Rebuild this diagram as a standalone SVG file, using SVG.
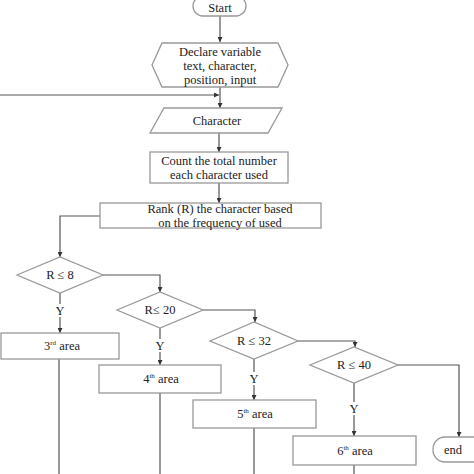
<svg xmlns="http://www.w3.org/2000/svg" width="474" height="474" viewBox="0 0 474 474">
<defs>
<marker id="ah" viewBox="0 0 8 8" refX="8" refY="4" markerWidth="5" markerHeight="5" markerUnits="userSpaceOnUse" orient="auto">
<path d="M0,0 L8,4 L0,8 z" fill="#333"/>
</marker>
</defs>
<style>
.shape{fill:#fff;stroke:#999;stroke-width:1.3}
.t{font-family:"Liberation Serif","Times New Roman",serif;font-size:12.5px;fill:#222;text-anchor:middle}
.c{fill:none;stroke:#555;stroke-width:1.2}
.y{font-family:"Liberation Serif","Times New Roman",serif;font-size:12.5px;fill:#222;text-anchor:middle}
.sup{font-size:7px}
</style>
<rect width="474" height="474" fill="#fff"/>
<g id="connectors">
<path class="c" d="M220,16 V42" marker-end="url(#ah)"/>
<path class="c" d="M220,87 V108" marker-end="url(#ah)"/>
<path class="c" d="M0,95 H219" marker-end="url(#ah)"/>
<path class="c" d="M219,133 V152" marker-end="url(#ah)"/>
<path class="c" d="M219,183 V203" marker-end="url(#ah)"/>
<path class="c" d="M100,216 H60 V257" marker-end="url(#ah)"/>
<path class="c" d="M103,275 H160 V292" marker-end="url(#ah)"/>
<path class="c" d="M203,310 H255 V322" marker-end="url(#ah)"/>
<path class="c" d="M298,341 H355 V347" marker-end="url(#ah)"/>
<path class="c" d="M398,365 H459 V437" marker-end="url(#ah)"/>
<path class="c" d="M60,293 V304"/>
<path class="c" d="M60,317 V333" marker-end="url(#ah)"/>
<path class="c" d="M160,328 V339"/>
<path class="c" d="M160,352 V365" marker-end="url(#ah)"/>
<path class="c" d="M254,359 V372"/>
<path class="c" d="M254,385 V400" marker-end="url(#ah)"/>
<path class="c" d="M354,383 V402"/>
<path class="c" d="M354,415 V436" marker-end="url(#ah)"/>
<path class="c" d="M59,359 V474"/>
<path class="c" d="M160,393 V474"/>
<path class="c" d="M254,428 V474"/>
<path class="c" d="M354,465 V474"/>
<text class="y" x="60" y="315">Y</text>
<text class="y" x="160" y="350">Y</text>
<text class="y" x="254" y="383">Y</text>
<text class="y" x="354" y="413">Y</text>
</g>
<g id="start">
<rect class="shape" x="193" y="-4" width="53" height="20" rx="10"/>
<text class="t" x="220" y="12">Start</text>
</g>
<g id="declare">
<polygon class="shape" points="152,65 162,43 278,43 288,65 278,87 162,87"/>
<text class="t" x="220" y="56">Declare variable</text>
<text class="t" x="220" y="70">text, character,</text>
<text class="t" x="220" y="84">position, input</text>
</g>
<g id="character">
<polygon class="shape" points="150,133 164,108 282,108 268,133"/>
<text class="t" x="217" y="125">Character</text>
</g>
<g id="count">
<rect class="shape" x="150" y="152" width="138" height="31"/>
<text class="t" x="219" y="165">Count the total number</text>
<text class="t" x="219" y="179">each character used</text>
</g>
<g id="rank">
<rect class="shape" x="100" y="203" width="221" height="25"/>
<text class="t" x="220" y="213">Rank (R) the character based</text>
<text class="t" x="220" y="227">on the frequency of used</text>
</g>
<g id="d8">
<polygon class="shape" points="17,275 60,257 103,275 60,293"/>
<text class="t" x="60" y="279">R ≤ 8</text>
</g>
<g id="d20">
<polygon class="shape" points="117,310 160,292 203,310 160,328"/>
<text class="t" x="160" y="314">R≤ 20</text>
</g>
<g id="d32">
<polygon class="shape" points="210,341 254,322 298,341 254,359"/>
<text class="t" x="254" y="345">R ≤ 32</text>
</g>
<g id="d40">
<polygon class="shape" points="310,365 354,347 398,365 354,383"/>
<text class="t" x="354" y="369">R ≤ 40</text>
</g>
<g id="area3">
<rect class="shape" x="1" y="333" width="118" height="26"/>
<text class="t" x="62" y="350">3<tspan class="sup" dy="-5">rd</tspan><tspan dy="5"> area</tspan></text>
</g>
<g id="area4">
<rect class="shape" x="99" y="365" width="122" height="28"/>
<text class="t" x="161" y="383">4<tspan class="sup" dy="-5">th</tspan><tspan dy="5"> area</tspan></text>
</g>
<g id="area5">
<rect class="shape" x="193" y="400" width="123" height="28"/>
<text class="t" x="255" y="418">5<tspan class="sup" dy="-5">th</tspan><tspan dy="5"> area</tspan></text>
</g>
<g id="area6">
<rect class="shape" x="293" y="436" width="123" height="29"/>
<text class="t" x="355" y="455">6<tspan class="sup" dy="-5">th</tspan><tspan dy="5"> area</tspan></text>
</g>
<g id="end">
<rect class="shape" x="433" y="437" width="60" height="25" rx="12"/>
<text class="t" x="453" y="454">end</text>
</g>
</svg>
